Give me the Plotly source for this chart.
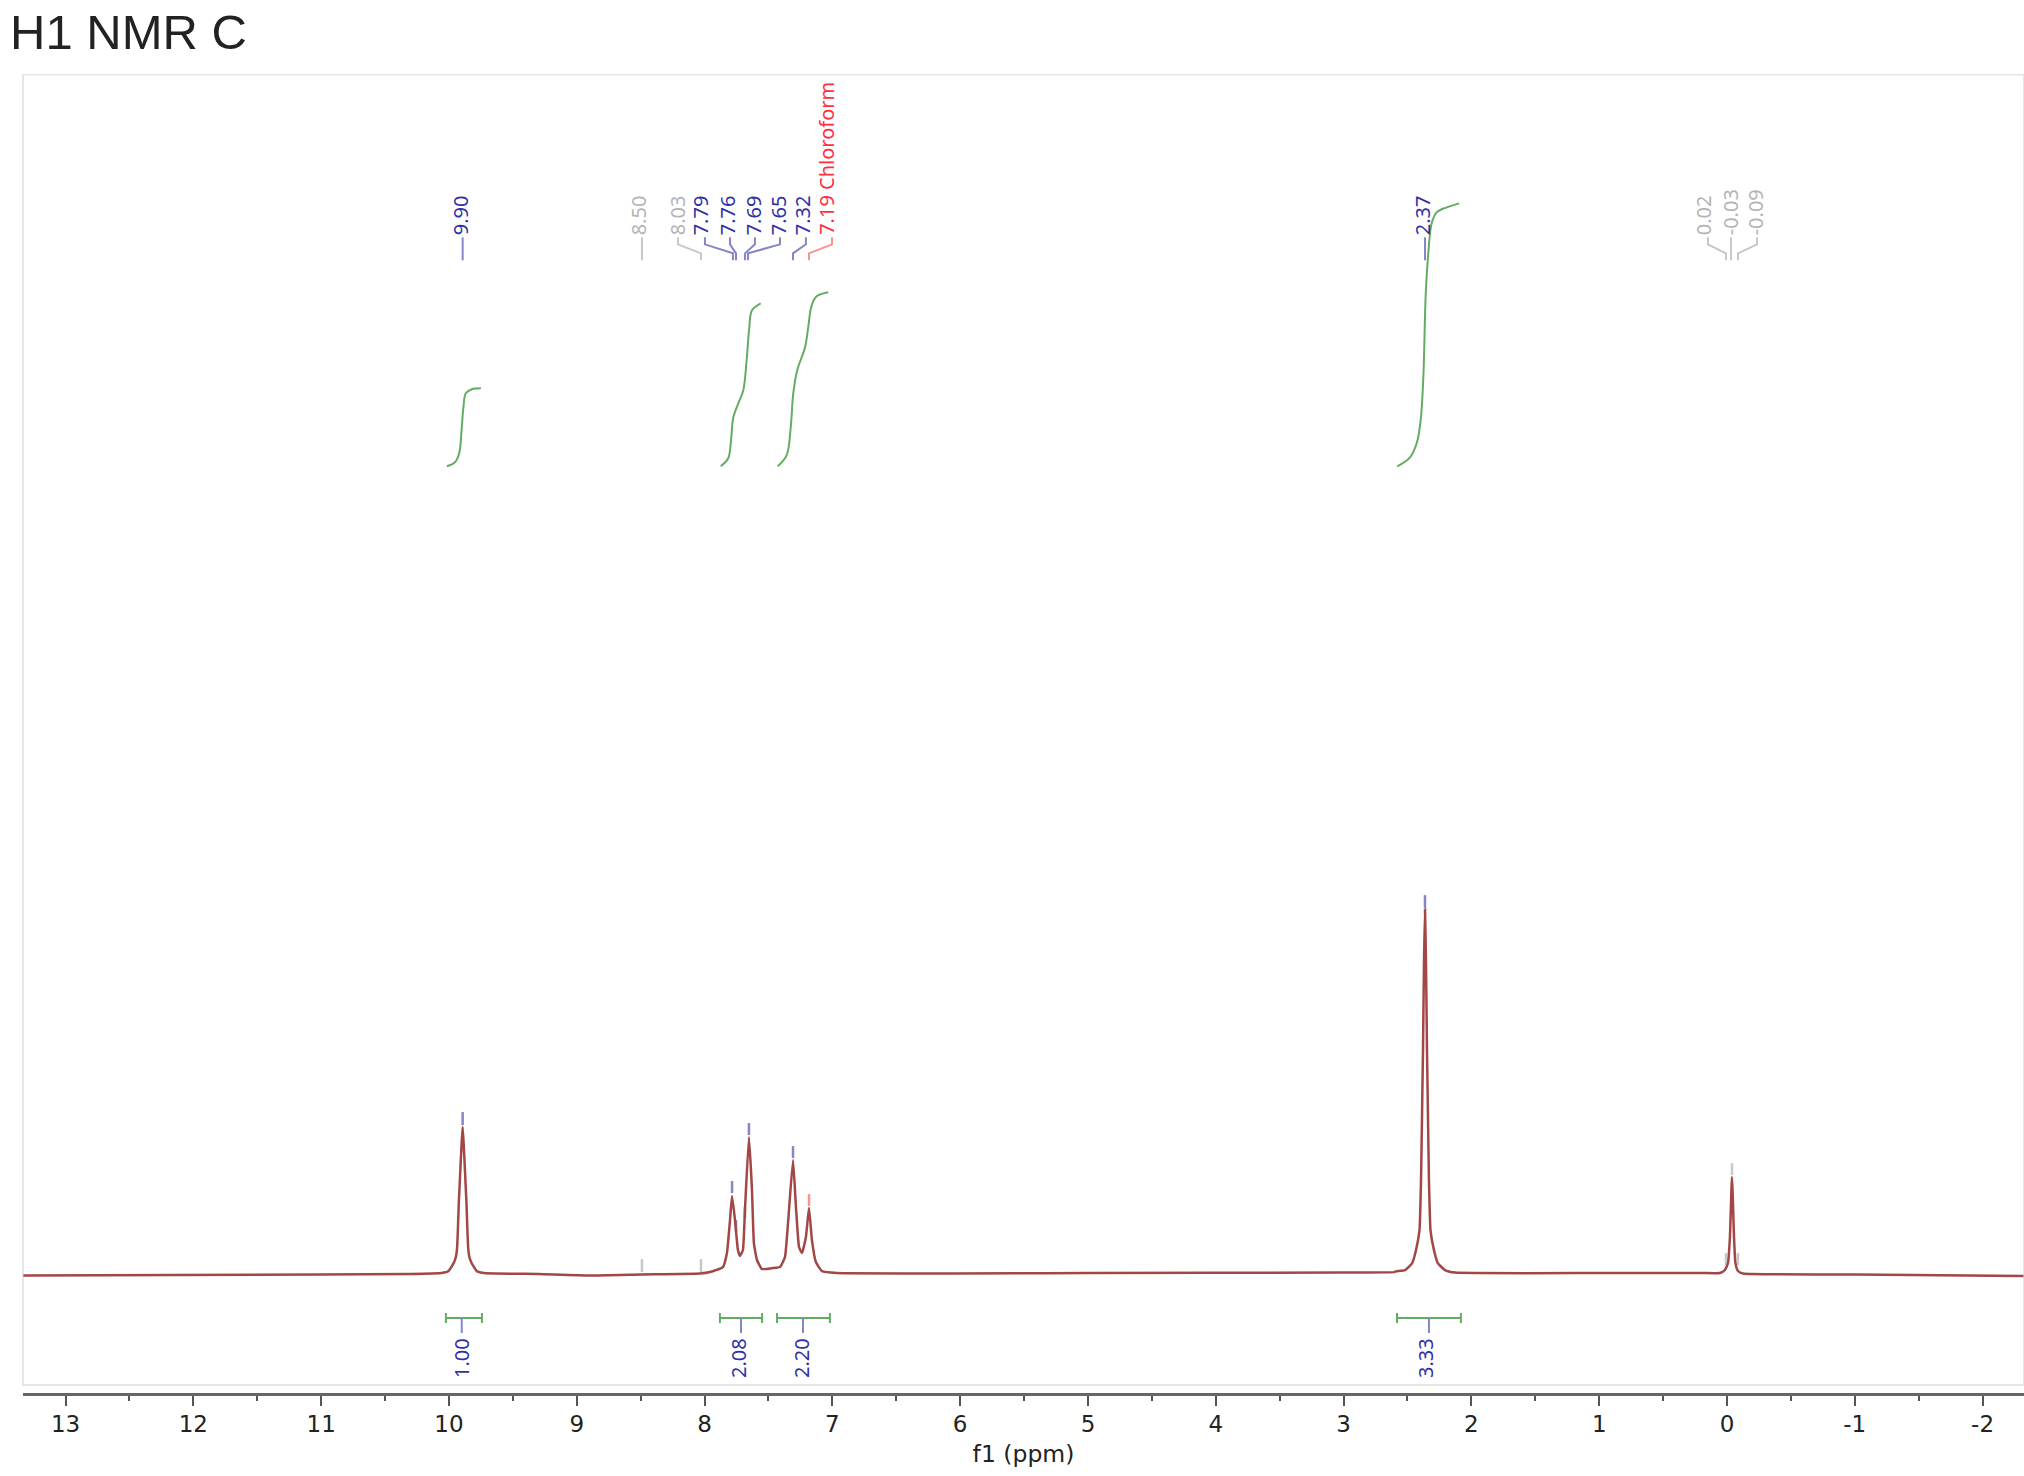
import plotly.graph_objects as go

# spectrum (ppm, intensity)
spec_ppm = [13.33, 11.0, 10.3, 10.057, 10.003, 9.963, 9.946, 9.936, 9.922, 9.916, 9.909, 9.901, 9.893, 9.885, 9.877, 9.87, 9.864, 9.85, 9.84, 9.823, 9.783, 9.729, 9.3, 8.9, 8.5, 8.036,
            7.958, 7.856, 7.825, 7.801, 7.785, 7.762, 7.739, 7.723, 7.700, 7.684, 7.653, 7.629, 7.614, 7.590, 7.551, 7.465, 7.410, 7.371, 7.347, 7.308, 7.285, 7.261, 7.238, 7.207, 7.183, 7.160, 7.129, 7.082, 6.965,
            5.0, 3.0, 2.6, 2.598, 2.519, 2.463, 2.433, 2.406, 2.394, 2.383, 2.379, 2.371, 2.363, 2.355, 2.347, 2.343, 2.332, 2.32, 2.293, 2.263, 2.207, 2.128,
            1.0, 0.2, 0.055, 0.016, -0.008, -0.023, -0.039, -0.055, -0.066, -0.086, -0.125, -1.0, -2.32]
spec_int = [-1.5, -0.5, 0, 1, 3, 11, 17, 27, 74, 90, 110, 130, 147, 130, 110, 90, 74, 27, 17, 11, 3, 1, 0, -1.5, -0.5, 0.5,
            2, 7, 21, 54, 78, 54, 24, 18, 24, 64, 137, 84, 31, 14, 5, 6, 7, 17, 51, 114, 67, 27, 21, 37, 66, 34, 12, 3, 1,
            1, 1.5, 2, 2.5, 4, 11, 24, 44, 94, 187, 220, 310, 365, 310, 220, 187, 94, 44, 24, 11, 4, 1.5,
            1, 1, 1, 4, 11, 37, 97, 37, 11, 3, 0.5, -0.5, -2]

# integral curves
int_ppm = [[10.016, 9.953, 9.92, 9.9, 9.887, 9.868, 9.821, 9.75],
           [7.874, 7.815, 7.793, 7.775, 7.736, 7.697, 7.671, 7.650, 7.629, 7.561],
           [7.428, 7.358, 7.326, 7.306, 7.275, 7.214, 7.189, 7.162, 7.123, 7.032],
           [2.58, 2.48, 2.428, 2.397, 2.376, 2.357, 2.337, 2.311, 2.272, 2.193, 2.095]]
int_val = [[808, 812, 821, 847, 867, 881, 885, 886],
           [808, 816, 834, 857, 871, 884, 914, 947, 964, 971],
           [808, 819, 847, 881, 904, 927, 947, 969, 978, 982],
           [808, 817, 831, 854, 897, 981, 1021, 1051, 1062, 1067, 1071]]

# integral brackets below the baseline
int_labels = ["1.00", "2.08", "2.20", "3.33"]
br_left = [10.024, 7.88, 7.433, 2.582]
br_right = [9.742, 7.55, 7.019, 2.082]
stem_ppm = [9.90, 7.715, 7.23, 2.332]
lab_ppm = [9.906, 7.739, 7.246, 2.363]
br_level = -44
br_cap = 5
stem_end = -59
lab_top = -64

# peak picking labels
pk_text = ["9.90", "8.50", "8.03", "7.79", "7.76", "7.69", "7.65", "7.32", "7.19 Chloroform", "2.37", "0.02", "-0.03", "-0.09"]
pk_lab = [9.914, 8.521, 8.216, 8.036, 7.825, 7.621, 7.426, 7.238, 7.042, 2.387, 0.188, -0.023, -0.219]
pk_top = [9.893, 8.490, 8.208, 7.997, 7.801, 7.606, 7.410, 7.207, 7.003, 2.363, 0.149, -0.031, -0.235]
pk_bot = [9.893, 8.490, 8.028, 7.778, 7.754, 7.684, 7.660, 7.308, 7.183, 2.363, 0.008, -0.031, -0.086]
pk_kind = ["b", "g", "g", "b", "b", "b", "b", "b", "r", "b", "g", "g", "g"]
conn_levels = [1037, 1030, 1021, 1014]
lab_base = 1039

# small ticks above each picked peak
tick_ppm = [9.893, 8.490, 8.028, 7.785, 7.754, 7.684, 7.653, 7.308, 7.183, 2.363, 0.008, -0.039, -0.086]
tick_lo = [149, 2, 2, 81, 42, 56, 139, 116, 68, 366, 9, 99, 9]
tick_hi = [162, 15, 15, 93, 54, 67, 151, 128, 80, 379, 21, 111, 21]
tick_kind = ["b", "g", "g", "b", "b", "b", "b", "b", "r", "b", "g", "g", "g"]

# axis
major_ticks = [13, 12, 11, 10, 9, 8, 7, 6, 5, 4, 3, 2, 1, 0, -1, -2]
major_labels = [str(v) for v in major_ticks]

TXT = {"b": "#2f2fa8", "g": "#b4b4b4", "r": "#ff2f3f"}
LINE = {"b": "#8585c8", "g": "#c8c8c8", "r": "#ff9090"}
GREEN = "#62ad62"
LAB_FONT = "Noto Sans"

fig = go.Figure()
for xs, ys in zip(int_ppm, int_val):
    fig.add_trace(go.Scatter(x=xs, y=ys, mode="lines", line=dict(color=GREEN, width=2, shape="spline", smoothing=1.0), hoverinfo="skip"))

for k, top, bot in zip(pk_kind, pk_top, pk_bot):
    fig.add_trace(go.Scatter(x=[top, top, bot, bot], y=conn_levels, mode="lines",
                             line=dict(color=LINE[k], width=2), hoverinfo="skip"))
for x, lo, hi, k in zip(tick_ppm, tick_lo, tick_hi, tick_kind):
    fig.add_trace(go.Scatter(x=[x, x], y=[lo, hi], mode="lines", line=dict(color=LINE[k], width=2.5), hoverinfo="skip"))

fig.add_trace(go.Scatter(x=spec_ppm, y=spec_int, mode="lines",
                         line=dict(color="#a34646", width=2.5, shape="spline", smoothing=0.4), hoverinfo="skip"))

for l, r, s, lx, t in zip(br_left, br_right, stem_ppm, lab_ppm, int_labels):
    fig.add_trace(go.Scatter(x=[l, r], y=[br_level, br_level], mode="lines", line=dict(color=GREEN, width=2), hoverinfo="skip"))
    fig.add_trace(go.Scatter(x=[l, l], y=[br_level - br_cap, br_level + br_cap], mode="lines", line=dict(color=GREEN, width=2), hoverinfo="skip"))
    fig.add_trace(go.Scatter(x=[r, r], y=[br_level - br_cap, br_level + br_cap], mode="lines", line=dict(color=GREEN, width=2), hoverinfo="skip"))
    fig.add_trace(go.Scatter(x=[s, s], y=[br_level, stem_end], mode="lines", line=dict(color=LINE["b"], width=2), hoverinfo="skip"))
    fig.add_annotation(x=lx, y=lab_top, text=t, textangle=-90, showarrow=False, yanchor="top", xanchor="center",
                       font=dict(family=LAB_FONT, size=20, color=TXT["b"]), borderpad=0, borderwidth=0)

for t, x, k in zip(pk_text, pk_lab, pk_kind):
    fig.add_annotation(x=x, y=lab_base, text=t, textangle=-90, showarrow=False, yanchor="bottom", xanchor="center",
                       font=dict(family=LAB_FONT, size=20, color=TXT[k]), borderpad=0, borderwidth=0)

fig.add_shape(type="rect", xref="paper", x0=0, x1=1, yref="y", y0=-111, y1=1200, line=dict(color="#e6e6e6", width=2), layer="below")

fig.update_layout(
    width=2024, height=1476, autosize=False, showlegend=False,
    paper_bgcolor="white", plot_bgcolor="white",
    margin=dict(l=23, r=0, t=73.6, b=83, pad=0),
    title=dict(text="H1 NMR C", x=10 / 2024, xanchor="left", y=1 - 32 / 1476, yanchor="middle",
               font=dict(family="Liberation Sans", size=49, color="#222222")),
    xaxis=dict(range=[13.333, -2.324], autorange=False, tickmode="array", tickvals=major_ticks, ticktext=major_labels,
               ticks="outside", ticklen=10, tickwidth=2, tickcolor="#555555", showgrid=False, zeroline=False,
               showline=True, linecolor="#666666", linewidth=3, ticklabelstandoff=-2,
               tickfont=dict(family="DejaVu Sans", size=23, color="#222222"),
               minor=dict(tick0=0, dtick=0.5, ticks="outside", ticklen=5, tickwidth=2, tickcolor="#555555"),
               title=dict(text="f1 (ppm)", standoff=10, font=dict(family="DejaVu Sans", size=23.5, color="#222222"))),
    yaxis=dict(range=[-119, 1200.4], autorange=False, visible=False, fixedrange=True),
)
fig.write_html("out.html", config={"displayModeBar": False},
               post_script="document.body.style.margin='0';document.documentElement.style.overflow='hidden';")
